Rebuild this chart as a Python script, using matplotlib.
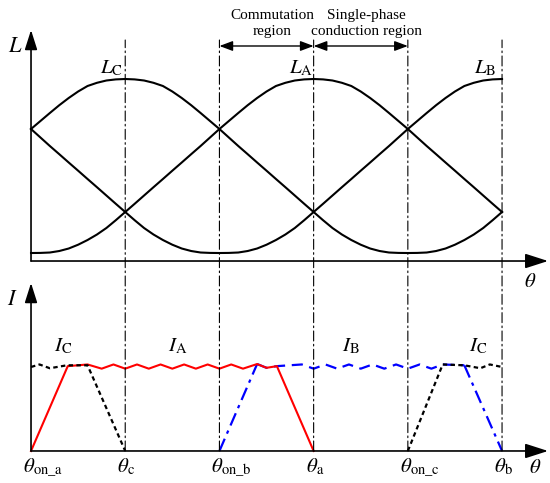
import matplotlib
matplotlib.use("Agg")
import matplotlib.pyplot as plt
from matplotlib.patches import ConnectionPatch

plt.rcParams['font.family'] = ['Liberation Serif', 'DejaVu Serif']
plt.rcParams['mathtext.fontset'] = 'stix'

# rotor position in units of one commutation step
theta_L = [0.0, 0.1, 0.2, 0.3, 0.4, 0.5, 0.6, 0.7, 0.8, 0.9,
           1.0, 1.1, 1.2, 1.3, 1.4, 1.5, 1.6, 1.7, 1.8, 1.9,
           2.0, 2.1, 2.2, 2.3, 2.4, 2.5, 2.6, 2.7, 2.8, 2.9,
           3.0, 3.1, 3.2, 3.3, 3.4, 3.5, 3.6, 3.7, 3.8, 3.9,
           4.0, 4.1, 4.2, 4.3, 4.4, 4.5, 4.6, 4.7, 4.8, 4.9, 5.0]

# phase inductances (arbitrary units)
L_C = [132, 140, 148, 155.8, 163, 169.5, 175, 178.2, 180.5, 181.6,
       182, 181.6, 180.5, 178.2, 175, 169.5, 163, 155.8, 148, 140,
       132, 123.5, 115, 106.8, 98.5, 90.3, 82, 73.8, 65.5, 57.2,
       49, 40.8, 33, 26.5, 21, 16.3, 12.5, 10, 8.5, 8.1,
       8, 8.1, 8.5, 10, 12.5, 16.3, 21, 26.5, 33, 40.8, 49]
L_A = [8, 8.1, 8.5, 10, 12.5, 16.3, 21, 26.5, 33, 40.8,
       49, 57.2, 65.5, 73.8, 82, 90.3, 98.5, 106.8, 115, 123.5,
       132, 140, 148, 155.8, 163, 169.5, 175, 178.2, 180.5, 181.6,
       182, 181.6, 180.5, 178.2, 175, 169.5, 163, 155.8, 148, 140,
       132, 123.5, 115, 106.8, 98.5, 90.3, 82, 73.8, 65.5, 57.2, 49]
L_B = [132, 123.5, 115, 106.8, 98.5, 90.3, 82, 73.8, 65.5, 57.2,
       49, 40.8, 33, 26.5, 21, 16.3, 12.5, 10, 8.5, 8.1,
       8, 8.1, 8.5, 10, 12.5, 16.3, 21, 26.5, 33, 40.8,
       49, 57.2, 65.5, 73.8, 82, 90.3, 98.5, 106.8, 115, 123.5,
       132, 140, 148, 155.8, 163, 169.5, 175, 178.2, 180.5, 181.6, 182]

# phase currents
ia_theta = [0, 0.39, 0.6, 0.75, 0.875, 1.0, 1.125, 1.25, 1.375, 1.5, 1.625,
            1.75, 1.875, 2.0, 2.125, 2.25, 2.4, 2.5, 2.61, 3.0]
ia = [0, 1.01, 1.03, 0.98, 1.03, 0.98, 1.03, 0.98, 1.03, 0.98, 1.03,
      0.98, 1.03, 0.98, 1.03, 0.98, 1.035, 0.99, 1.01, 0]

ib_theta = [2.0, 2.4, 2.5, 2.61, 2.875, 3.0, 3.125, 3.25, 3.375, 3.5, 3.625,
            3.75, 3.875, 4.0, 4.125, 4.25, 4.37, 4.6, 5.0]
ib = [0, 1.035, 0.99, 1.01, 1.03, 0.98, 1.03, 0.98, 1.03, 0.98, 1.03,
      0.98, 1.03, 0.98, 1.03, 0.98, 1.03, 1.02, 0]

ic1_theta = [0, 0.09, 0.2, 0.38, 0.6, 1.0]
ic1 = [1.0, 1.03, 0.985, 1.02, 1.02, 0]
ic2_theta = [4.0, 4.37, 4.6, 4.77, 4.87, 5.0]
ic2 = [0, 1.03, 1.02, 0.985, 1.03, 1.0]

marks = [0, 1, 2, 3, 4, 5]
mark_labels = [r'$\theta_{\mathrm{on\_a}}$', r'$\theta_{\mathrm{c}}$',
               r'$\theta_{\mathrm{on\_b}}$', r'$\theta_{\mathrm{a}}$',
               r'$\theta_{\mathrm{on\_c}}$', r'$\theta_{\mathrm{b}}$']

fig = plt.figure(figsize=(5.5, 4.83), dpi=100)
ax1 = fig.add_axes([0.0564, 0.4596, 0.94, 0.4783])
ax2 = fig.add_axes([0.0564, 0.0663, 0.94, 0.3478])

xmax = 5.488
ax1.set_xlim(0, xmax)
ax1.set_ylim(0, 231)
ax2.set_xlim(0, xmax)
ax2.set_ylim(0, 2.0)

for ax in (ax1, ax2):
    for s in ax.spines.values():
        s.set_visible(False)
    ax.set_xticks([])
    ax.set_yticks([])
    ax.patch.set_alpha(0)
    ax.annotate('', xy=(1, 0), xytext=(0, 0), xycoords='axes fraction',
                arrowprops=dict(arrowstyle='-|>,head_length=1.4,head_width=0.45',
                                color='k', lw=1.2, shrinkA=0, shrinkB=0))
    ax.annotate('', xy=(0, 1), xytext=(0, 0), xycoords='axes fraction',
                arrowprops=dict(arrowstyle='-|>,head_length=1.2,head_width=0.38',
                                color='k', lw=1.2, shrinkA=0, shrinkB=0))

# inductance curves
for L in (L_A, L_B, L_C):
    ax1.plot(theta_L, L, color='k', lw=1.5, clip_on=False)

ax1.text(-0.17, 213, r'$L$', fontsize=16, ha='center', va='center')
ax1.text(5.30, -21, r'$\theta$', fontsize=15, ha='center', va='center')
ax1.text(0.85, 193, r'$L_{\mathrm{C}}$', fontsize=15, ha='center', va='center')
ax1.text(2.87, 193, r'$L_{\mathrm{A}}$', fontsize=15, ha='center', va='center')
ax1.text(4.82, 193, r'$L_{\mathrm{B}}$', fontsize=15, ha='center', va='center')

# region arrows and captions
for a, b in [(2, 3), (3, 4)]:
    ax1.annotate('', xy=(b, 215), xytext=(a, 215), xycoords='data',
                 annotation_clip=False,
                 arrowprops=dict(arrowstyle='<|-|>,head_length=0.8,head_width=0.3',
                                 color='k', lw=1.0, shrinkA=0, shrinkB=0))
ax1.text(2.56, 237, 'Commutation\nregion', fontsize=11, ha='center',
         va='center', linespacing=1.3, clip_on=False)
ax1.text(3.56, 237, 'Single-phase\nconduction region', fontsize=11,
         ha='center', va='center', linespacing=1.3, clip_on=False)

# currents
ax2.plot(ib_theta[1:-1], ib[1:-1], color='#0000ff', lw=1.6,
         linestyle=(0, (5, 3)), clip_on=False)
ax2.plot(ib_theta[:2], ib[:2], color='#0000ff', lw=1.6,
         linestyle=(0, (6, 2.5, 1.5, 2.5)), clip_on=False)
ax2.plot(ib_theta[-2:], ib[-2:], color='#0000ff', lw=1.6,
         linestyle=(0, (6, 2.5, 1.5, 2.5)), clip_on=False)
ax2.plot(ia_theta, ia, color='#ff0000', lw=1.5, clip_on=False)
ax2.plot(ic1_theta, ic1, color='k', lw=1.6, linestyle=(0, (2, 1.5)),
         clip_on=False)
ax2.plot(ic2_theta, ic2, color='k', lw=1.6, linestyle=(0, (2, 1.5)),
         clip_on=False)

ax2.text(-0.20, 1.786, r'$I$', fontsize=16, ha='center', va='center')
ax2.text(5.35, -0.21, r'$\theta$', fontsize=15, ha='center', va='center')
ax2.text(0.34, 1.24, r'$I_{\mathrm{C}}$', fontsize=15, ha='center', va='center')
ax2.text(1.56, 1.24, r'$I_{\mathrm{A}}$', fontsize=15, ha='center', va='center')
ax2.text(3.40, 1.24, r'$I_{\mathrm{B}}$', fontsize=15, ha='center', va='center')
ax2.text(4.75, 1.24, r'$I_{\mathrm{C}}$', fontsize=15, ha='center', va='center')

for m, lab in zip(marks, mark_labels):
    ax2.text(m - 0.085, -0.19, lab, fontsize=15, ha='left', va='center')
    if m > 0:
        con = ConnectionPatch(xyA=(m, 0), coordsA=ax2.transData,
                              xyB=(m, 221), coordsB=ax1.transData,
                              color='k', lw=0.8,
                              linestyle=(0, (9, 3, 1.5, 3)))
        fig.add_artist(con)

fig.savefig('out.png', dpi=100)
